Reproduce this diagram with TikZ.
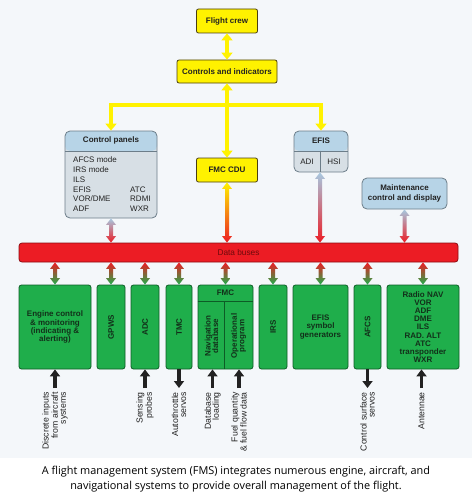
\documentclass[tikz,border=0pt]{standalone}
\usepackage{fontspec}
\setmainfont{Liberation Sans}
\newfontfamily\capfont{Open Sans}
\usetikzlibrary{arrows.meta, calc}
\definecolor{fmsBack}{HTML}{F4F7FA}
\definecolor{fmsYellow}{HTML}{FFF200}
\definecolor{fmsYellowEdge}{HTML}{4A3F10}
\definecolor{fmsGreen}{HTML}{1FAE4B}
\definecolor{fmsGreenEdge}{HTML}{0D5C26}
\definecolor{fmsGreenText}{HTML}{12301A}
\definecolor{fmsRed}{HTML}{EC1C24}
\definecolor{fmsRedEdge}{HTML}{8C0D11}
\definecolor{fmsRedText}{HTML}{6E0A0C}
\definecolor{fmsHead}{HTML}{B7D4E7}
\definecolor{fmsBody}{HTML}{D7DFE5}
\definecolor{fmsEdge}{HTML}{6C7D89}
\definecolor{fmsInk}{HTML}{222222}
\definecolor{fmsArrowBlue}{HTML}{A7C8E0}
\definecolor{fmsPale}{HTML}{E7B9BC}
\definecolor{fmsOrange}{HTML}{DDA21C}

% fat double-headed arrow, shaded from top to bottom
\newcommand\fatdbl[3][]{%
  \path[#1] let \p1=(#2), \p2=(#3) in
    (\x1,\y1) -- (\x1+5pt,\y1-6.5pt) -- (\x1+2pt,\y1-6.5pt) -- (\x1+2pt,\y2+6.5pt)
    -- (\x1+5pt,\y2+6.5pt) -- (\x1,\y2) -- (\x1-5pt,\y2+6.5pt) -- (\x1-2pt,\y2+6.5pt)
    -- (\x1-2pt,\y1-6.5pt) -- (\x1-5pt,\y1-6.5pt) -- cycle;}

\begin{document}
\begin{tikzpicture}[x=1pt, y=-1pt, font=\fontsize{8}{9.7}\selectfont,
  crewbox/.style={draw=fmsYellowEdge, fill=fmsYellow, line width=0.8pt,
    rounded corners=2pt, inner sep=0pt, text=fmsInk,
    font=\bfseries\fontsize{8}{9.7}\selectfont},
  panel/.style={draw=fmsEdge, fill=fmsBody, line width=0.8pt,
    rounded corners=5pt, inner sep=0pt,
    path picture={\fill[fmsHead] (path picture bounding box.north west)
      rectangle ([yshift=-#1]path picture bounding box.north east);
      \draw[fmsEdge, line width=0.8pt] ([yshift=-#1]path picture bounding box.north west)
      -- ([yshift=-#1]path picture bounding box.north east);}},
  infobox/.style={draw=fmsEdge, fill=fmsHead, line width=0.8pt,
    rounded corners=5pt, inner sep=0pt, align=center, text=fmsInk,
    font=\bfseries\fontsize{8}{9.2}\selectfont},
  hdtxt/.style={inner sep=0pt, text=fmsInk, font=\bfseries\fontsize{8}{9.7}\selectfont},
  lst/.style={inner sep=0pt, text=fmsInk, align=left},
  unit/.style={draw=fmsGreenEdge, fill=fmsGreen, line width=0.8pt,
    rounded corners=2.5pt, minimum height=84pt, inner sep=0pt, align=center,
    text=fmsGreenText, font=\bfseries\fontsize{8}{8.1}\selectfont},
  unittxt/.style={inner sep=0pt, align=center, text=fmsGreenText,
    font=\bfseries\fontsize{8}{7.6}\selectfont},
  extlabel/.style={rotate=90, anchor=east, align=right, inner xsep=4pt,
    inner ysep=1pt, text=fmsInk, font=\fontsize{8.7}{8}\selectfont},
  yarr/.style={draw=fmsYellow, line width=4pt, -{Triangle[width=11pt,length=7pt]}},
  yarrs/.style={yarr, {Triangle[width=11pt,length=7pt]}-{Triangle[width=11pt,length=7pt]}},
  blk/.style={draw=fmsInk, line width=3.5pt, -{Triangle[width=10pt,length=7pt]}},
  busgrad/.style={top color=fmsRed, middle color=fmsOrange, bottom color=fmsGreen},
  bluegrad/.style={top color=fmsArrowBlue, middle color=fmsPale, bottom color=fmsRed},
  yelgrad/.style={top color=fmsYellow, bottom color=fmsRed}]

\useasboundingbox (0,0) rectangle (474,503);
\fill[fmsBack] (0,0) rectangle (472,458);

% crew side
\node[crewbox, minimum width=61pt, minimum height=24pt] (crew) at (227,21) {Flight crew};
\node[crewbox, minimum width=100pt, minimum height=23pt] (ctrl) at (227,71.5) {Controls and indicators};
\node[crewbox, minimum width=61pt, minimum height=24pt] (cdu) at (227,170) {FMC CDU};

\node[panel=20pt, minimum width=92pt, minimum height=87pt] (panels) at (111,174.5) {};
\node[hdtxt] (panelsTitle) at ([yshift=-10pt]panels.north) {Control panels};
\node[lst, anchor=north west] (panelsList) at (73,157)
  {AFCS mode\\IRS mode\\ILS\\\makebox[57pt][l]{EFIS}ATC\\
   \makebox[57pt][l]{VOR/DME}RDMI\\\makebox[57pt][l]{ADF}WXR};

\node[panel=20pt, minimum width=54pt, minimum height=41pt] (efis) at (321,151.5) {};
\node[hdtxt] (efisTitle) at ([yshift=-10pt]efis.north) {EFIS};
\draw[fmsEdge, line width=0.8pt] ([xshift=-1pt,yshift=-20pt]efis.north) -- ([xshift=-1pt]efis.south);
\node[lst] (adi) at (307,162) {ADI};
\node[lst] (hsi) at (334,162) {HSI};

\node[infobox, minimum width=85pt, minimum height=31pt] (maint) at (404.5,193.5)
  {Maintenance\\control and display};

\node[draw=fmsRedEdge, fill=fmsRed, line width=0.8pt, rounded corners=3pt,
  minimum width=439pt, minimum height=19pt, text=fmsRedText,
  font=\fontsize{8.3}{9}\selectfont] (bus) at (238.5,252.5) {Data buses};

\coordinate (split) at (227,105);
\draw[yarrs] (crew) -- (ctrl);
\draw[yarrs] (ctrl) -- (cdu);
\draw[yarr] (split) -| (panels.north);
\draw[yarr] (split) -| (efis.north);

\fatdbl[bluegrad]{panels.south}{panels.south |- bus.north}
\fatdbl[yelgrad]{cdu.south}{cdu.south |- bus.north}
\fatdbl[bluegrad]{[xshift=-1pt]efis.south}{bus.north -| adi.east}
\fatdbl[bluegrad]{maint.south}{maint.south |- bus.north}

% units on the bus
\node[unit, minimum width=72pt] (eng) at (55,327) {Engine control\\\& monitoring\\(indicating \&\\alerting)};
\node[unit, minimum width=28pt] (gpws) at (111,327) {\rotatebox{90}{GPWS}};
\node[unit, minimum width=28pt] (adc) at (145,327) {\rotatebox{90}{ADC}};
\node[unit, minimum width=26pt] (tmc) at (179,327) {\rotatebox{90}{TMC}};
\node[unit, minimum width=55pt] (fmc) at (225.5,327) {};
\node[unit, minimum width=28pt] (irs) at (273,327) {\rotatebox{90}{IRS}};
\node[unit, minimum width=55pt] (efs) at (320.5,327) {EFIS\\symbol\\generators};
\node[unit, minimum width=27pt] (afcs) at (367.5,327) {\rotatebox{90}{AFCS}};
\node[unit, minimum width=72pt] (radio) at (423,327)
  {Radio NAV\\VOR\\ADF\\DME\\ILS\\RAD. ALT\\ATC\\transponder\\WXR};

\draw[fmsGreenEdge, line width=0.8pt] ([yshift=-17pt]fmc.north west) -- ([yshift=-17pt]fmc.north east);
\draw[fmsGreenEdge, line width=0.8pt] ([xshift=-1.5pt,yshift=-17pt]fmc.north) -- ([xshift=-1.5pt]fmc.south);
\node[unittxt] (fmcTitle) at ([yshift=-8.5pt]fmc.north) {FMC};
\node[unittxt, rotate=90] (navdb) at (211.5,336) {Navigation\\database};
\node[unittxt, rotate=90] (opprog) at (238.5,336) {Operational\\program};

\fatdbl[busgrad]{bus.south -| eng.north}{eng.north}
\fatdbl[busgrad]{bus.south -| gpws.north}{gpws.north}
\fatdbl[busgrad]{bus.south -| adc.north}{adc.north}
\fatdbl[busgrad]{bus.south -| tmc.north}{tmc.north}
\fatdbl[busgrad]{bus.south -| fmc.north}{fmc.north}
\fatdbl[busgrad]{bus.south -| irs.north}{irs.north}
\fatdbl[busgrad]{bus.south -| efs.north}{efs.north}
\fatdbl[busgrad]{bus.south -| afcs.north}{afcs.north}
\fatdbl[busgrad]{bus.south -| radio.north}{radio.north}

% outside inputs and outputs
\node[extlabel] (discrete) at (55,388) {Discrete inputs\\from aircraft\\systems};
\node[extlabel] (sensing) at (145,388) {Sensing\\probes};
\node[extlabel] (autothr) at (179,388) {Autothrottle\\servos};
\node[extlabel] (dbload) at (212.5,388) {Database\\loading};
\node[extlabel] (fuel) at (239,388) {Fuel quantity\\\& fuel flow data};
\node[extlabel] (surface) at (367.5,388) {Control surface\\servos};
\node[extlabel] (antennae) at (421.5,388) {Antennae};

\draw[blk] (discrete.east) -- (discrete.east |- eng.south);
\draw[blk] (sensing.east) -- (sensing.east |- adc.south);
\draw[blk] (autothr.east |- tmc.south) -- (autothr.east);
\draw[blk] (dbload.east) -- (dbload.east |- fmc.south);
\draw[blk] (fuel.east) -- (fuel.east |- fmc.south);
\draw[blk] (surface.east |- afcs.south) -- (surface.east);
\draw[blk] (antennae.east) -- (antennae.east |- radio.south);

\node[font=\capfont\fontsize{10.9}{14.3}\selectfont, align=center] (caption) at (236,479)
  {A flight management system (FMS) integrates numerous engine, aircraft, and\\
   navigational systems to provide overall management of the flight.};
\end{tikzpicture}
\end{document}
